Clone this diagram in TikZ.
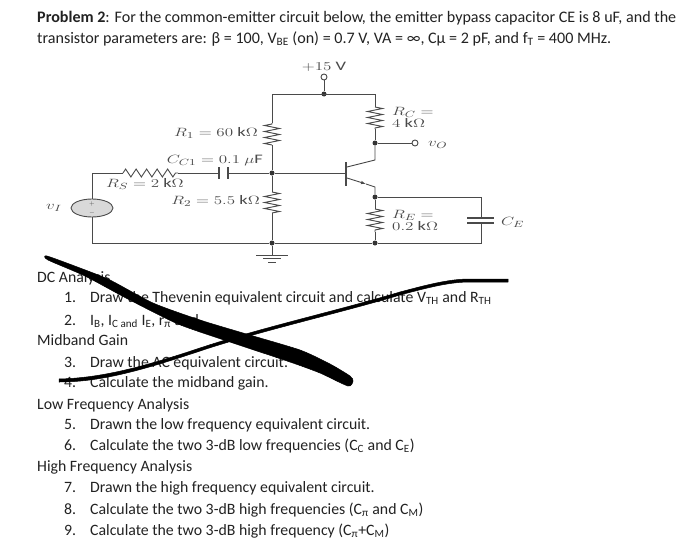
\documentclass[tikz,border=0pt]{standalone}
\usepackage{graphicx}
\usepackage{fontspec}
\setmainfont{Carlito}
\usetikzlibrary{shapes.geometric,decorations.pathmorphing,arrows.meta}
\definecolor{inkc}{HTML}{222222}
\definecolor{wirec}{HTML}{4A4A4A}
\newcommand{\lowt}[1]{\textsubscript{#1}}
\newcommand{\wdn}[1]{\scalebox{1.42}[1]{#1}}
\tikzset{
  txt/.style={anchor=base west,inner sep=0pt,text=inkc,font=\fontsize{15.8}{18}\selectfont},
  probt/.style={txt,font=\fontsize{16.08}{18}\selectfont},
  wire/.style={draw=wirec,line width=.9pt},
  resv/.style={wire,decorate,decoration={zigzag,segment length=6pt,amplitude=7.5pt}},
  resh/.style={wire,decorate,decoration={zigzag,segment length=10.5pt,amplitude=4pt}},
  junc/.style={circle,fill=wirec!70!black,inner sep=0pt,minimum size=5pt},
  term/.style={circle,draw=wirec,line width=.9pt,fill=white,inner sep=0pt,minimum size=6pt},
  cktl/.style={inner sep=0pt,text=wirec,font=\fontsize{13}{13}\selectfont},
  strike/.style={fill=black,draw=black,line width=.5pt,line join=round}
}
\begin{document}
\begin{tikzpicture}[x=1pt,y=-1pt]
  \useasboundingbox[fill=white] (0,0) rectangle (700,546);
  \node[probt] (prob1) at (37,22) {\textbf{Problem 2}: For the common-emitter circuit below, the emitter bypass capacitor CE is 8 uF, and the};
  \node[probt] (prob2) at (37,43) {transistor parameters are: β = 100, V\lowt{BE} (on) = 0.7 V, VA = ∞, Cµ = 2 pF, and f\lowt{T} = 400 MHz.};

  \coordinate (tl) at (92,173);
  \coordinate (bl) at (92,243);
  \coordinate (rsa) at (123,173);
  \coordinate (rsb) at (178,173);
  \coordinate (cca) at (219,173);
  \coordinate (ccb) at (228,173);
  \coordinate (cca1) at (219,167);
  \coordinate (cca2) at (219,179);
  \coordinate (ccb1) at (228,167);
  \coordinate (ccb2) at (228,179);
  \coordinate (top1) at (272,94);
  \coordinate (r1a) at (272,123);
  \coordinate (r1b) at (272,145);
  \coordinate (r2a) at (272,192);
  \coordinate (r2b) at (272,213);
  \coordinate (topr) at (375,94);
  \coordinate (rca) at (375,107);
  \coordinate (rcb) at (375,129);
  \coordinate (cola) at (375,160);
  \coordinate (colb) at (347,167);
  \coordinate (basea) at (346,162);
  \coordinate (baseb) at (346,186);
  \coordinate (basew) at (346,173);
  \coordinate (emia) at (347,178);
  \coordinate (emib) at (366,184);
  \coordinate (emic) at (375,187);
  \coordinate (rea) at (375,209);
  \coordinate (reb) at (375,232);
  \coordinate (cetop) at (481,197);
  \coordinate (cebot) at (481,243);
  \coordinate (cep1) at (481,218);
  \coordinate (cep2) at (481,223);
  \coordinate (cep1a) at (467,218);
  \coordinate (cep1b) at (494,218);
  \coordinate (cep2a) at (467,223);
  \coordinate (cep2b) at (494,223);
  \coordinate (gnd1a) at (256,255);
  \coordinate (gnd1b) at (288,255);
  \coordinate (gnd1) at (272,255);
  \coordinate (gnd2a) at (263,258.5);
  \coordinate (gnd2b) at (281,258.5);
  \coordinate (gnd3a) at (268,262);
  \coordinate (gnd3b) at (276,262);

  \node[ellipse,draw=wirec,line width=.9pt,fill=gray!30,minimum width=42pt,minimum height=18pt,inner sep=0pt] (vsrc) at (92,208) {};
  \node[inner sep=0pt,text=wirec,font=\fontsize{6.5}{6.5}\selectfont] (vplus) at (92,204) {$+$};
  \node[inner sep=0pt,text=wirec,font=\fontsize{6.5}{6.5}\selectfont] (vminus) at (92,212.5) {$-$};
  \node[junc] (jb) at (272,173) {};
  \node[junc] (jg) at (272,243) {};
  \node[junc] (jv) at (324,94) {};
  \node[junc] (jc) at (375,143) {};
  \node[junc] (je) at (375,197) {};
  \node[junc] (jr) at (375,243) {};
  \node[term] (tv) at (324,77) {};
  \node[term] (to) at (415,143) {};

  \draw[wire] (vsrc) -- (tl) -- (rsa);
  \draw[wire] (vsrc) -- (bl) -- (jg);
  \draw[resh] (rsa) -- (rsb);
  \draw[wire] (rsb) -- (cca);
  \draw[wire,line width=1.3pt] (cca1) -- (cca2);
  \draw[wire,line width=1.3pt] (ccb1) -- (ccb2);
  \draw[wire] (ccb) -- (jb);
  \draw[wire] (jb) -- (basew);
  \draw[wire] (jb) -- (r1b);
  \draw[resv] (r1b) -- (r1a);
  \draw[wire] (r1a) -- (top1) -- (topr) -- (rca);
  \draw[wire] (tv) -- (jv);
  \draw[resv] (rca) -- (rcb);
  \draw[wire] (rcb) -- (jc);
  \draw[wire] (jc) -- (to);
  \draw[wire] (jc) -- (cola) -- (colb);
  \draw[wire,line width=1.8pt] (basea) -- (baseb);
  \draw[wire,-{Latex[length=5pt,width=3.5pt]}] (emia) -- (emib);
  \draw[wire] (emib) -- (emic) -- (je);
  \draw[wire] (je) -- (rea);
  \draw[resv] (rea) -- (reb);
  \draw[wire] (reb) -- (jr);
  \draw[wire] (je) -- (cetop) -- (cep1);
  \draw[wire] (cep2) -- (cebot) -- (jr);
  \draw[wire] (jg) -- (jr);
  \draw[wire,line width=1.3pt] (cep1a) -- (cep1b);
  \draw[wire,line width=1.3pt] (cep2a) -- (cep2b);
  \draw[wire] (jb) -- (r2a);
  \draw[resv] (r2a) -- (r2b);
  \draw[wire] (r2b) -- (jg);
  \draw[wire] (jg) -- (gnd1);
  \draw[wire] (gnd1a) -- (gnd1b);
  \draw[wire] (gnd2a) -- (gnd2b);
  \draw[wire] (gnd3a) -- (gnd3b);

  \node[cktl] (lv) at (324,67) {\wdn{$+15$ V}};
  \node[cktl,anchor=east] (lr1) at (258,133) {\wdn{$R_1 = 60~\mathrm{k}\Omega$}};
  \node[cktl,anchor=east] (lcc) at (263,160) {\wdn{$C_{C1} = 0.1~\mu\mathrm{F}$}};
  \node[cktl,anchor=west] (lrs) at (106,184) {\wdn{$R_S = 2~\mathrm{k}\Omega$}};
  \node[cktl,anchor=east] (lr2) at (260,201) {\wdn{$R_2 = 5.5~\mathrm{k}\Omega$}};
  \node[cktl] (lvi) at (54,208) {\wdn{$v_I$}};
  \node[cktl,anchor=west] (lrc) at (392,112) {\wdn{$R_C =$}};
  \node[cktl,anchor=west] (lrc2) at (392,123) {\wdn{$4~\mathrm{k}\Omega$}};
  \node[cktl,anchor=west] (lvo) at (428,145) {\wdn{$v_O$}};
  \node[cktl,anchor=west] (lre) at (392,215) {\wdn{$R_E =$}};
  \node[cktl,anchor=west] (lre2) at (392,226) {\wdn{$0.2~\mathrm{k}\Omega$}};
  \node[cktl,anchor=west] (lce) at (501,222) {\wdn{$C_E$}};

  \node[txt] (h1) at (37,282) {DC Analysis};
  \node[txt] (n1) at (64,302) {1.};
  \node[txt] (t1) at (90,302) {Draw the Thevenin equivalent circuit and calculate V\lowt{TH} and R\lowt{TH}};
  \node[txt] (n2) at (64,325) {2.};
  \node[txt] (t2) at (90,325) {I\lowt{B}, I\lowt{C and} I\lowt{E}, r\lowt{π} and};
  \node[txt] (h2) at (37,345) {Midband Gain};
  \node[txt] (n3) at (64,367) {3.};
  \node[txt] (t3) at (90,367) {Draw the AC equivalent circuit.};
  \node[txt] (n4) at (64,387) {4.};
  \node[txt] (t4) at (90,387) {Calculate the midband gain.};
  \node[txt] (h3) at (37,409) {Low Frequency Analysis};
  \node[txt] (n5) at (64,429) {5.};
  \node[txt] (t5) at (90,429) {Drawn the low frequency equivalent circuit.};
  \node[txt] (n6) at (64,450) {6.};
  \node[txt] (t6) at (90,450) {Calculate the two 3-dB low frequencies (C\lowt{C} and C\lowt{E})};
  \node[txt] (h4) at (37,471) {High Frequency Analysis};
  \node[txt] (n7) at (64,492) {7.};
  \node[txt] (t7) at (90,492) {Drawn the high frequency equivalent circuit.};
  \node[txt] (n8) at (64,514) {8.};
  \node[txt] (t8) at (90,514) {Calculate the two 3-dB high frequencies (C\lowt{π} and C\lowt{M})};
  \node[txt] (n9) at (64,535) {9.};
  \node[txt] (t9) at (90,535) {Calculate the two 3-dB high frequency (C\lowt{π}+C\lowt{M})};

  \filldraw[strike] plot[smooth cycle,tension=.4] coordinates {(47,256) (80,268) (110,280) (153,303) (200,320) (243,333) (300,350) (330,364) (350,376) (353,381) (348,386) (320,373) (290,362) (233,343) (178,324) (126,298) (85,276) (48,260)};
  \filldraw[strike] (59,379) .. controls (100,378) and (140,368) .. (200,348)
    .. controls (260,328) and (340,310) .. (400,292)
    .. controls (430,284) and (450,279) .. (470,279) -- (508,279) -- (508,282) -- (470,282)
    .. controls (450,282) and (430,287) .. (400,295)
    .. controls (340,313) and (260,331) .. (200,351)
    .. controls (140,371) and (100,382) .. (59,382) -- cycle;
\end{tikzpicture}
\end{document}
